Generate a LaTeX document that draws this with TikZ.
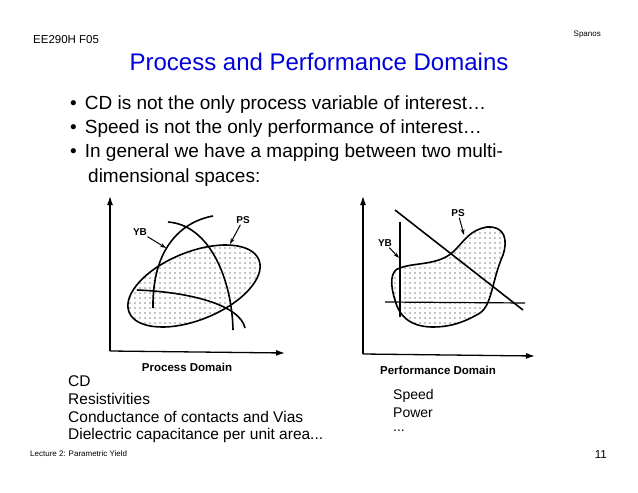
\documentclass[tikz,border=0pt]{standalone}
\usepackage{fontspec}
\setmainfont{Liberation Sans}
\usetikzlibrary{patterns.meta,arrows.meta,shapes.geometric}
\definecolor{ttl}{RGB}{0,0,220}
\begin{document}
\begin{tikzpicture}[x=1pt,y=-1pt,
  curve/.style={line width=1.6pt},
  axis/.style={line width=1.3pt,-{Latex[length=9pt,width=6pt]}},
  lbl/.style={font=\bfseries\fontsize{10}{12}\selectfont,inner sep=1pt},
  dlbl/.style={font=\bfseries\fontsize{11.5}{13}\selectfont,inner sep=1pt},
  ptr/.style={line width=1pt,-{Stealth[length=6pt,width=4pt]}},
  dotfill/.style={pattern={Dots[distance=5pt,radius=0.6pt]},pattern color=black},
  txt/.style={anchor=west,inner sep=0pt,font=\fontsize{15.5}{18}\selectfont},
  rtxt/.style={anchor=west,inner sep=0pt,font=\fontsize{14}{16}\selectfont},
  bul/.style={anchor=west,inner sep=0pt,font=\fontsize{19}{22}\selectfont}]
\useasboundingbox (0,0) rectangle (638,493);
\node[anchor=west,inner sep=0pt,font=\fontsize{11.5}{13}\selectfont] (hd) at (33,40) {EE290H F05};
\node[anchor=east,inner sep=0pt,font=\fontsize{8}{9}\selectfont] (au) at (601,35) {Spanos};
\node[inner sep=0pt,text=ttl,font=\fontsize{24}{28}\selectfont] (title) at (319,62) {Process and Performance Domains};
\node[bul] (b1) at (70,105) {•\hspace{8pt}CD is not the only process variable of interest…};
\node[bul] (b2) at (70,129) {•\hspace{8pt}Speed is not the only performance of interest…};
\node[bul] (b3) at (70,153) {•\hspace{8pt}In general we have a mapping between two multi-};
\node[bul] (b4) at (88,178) {dimensional spaces:};
% left plot
\coordinate (lo) at (110,351);
\coordinate (ly) at (110,196);
\coordinate (lx) at (285,353);
\draw[axis] (lo) -- (ly);
\draw[axis] (lo) -- (lx);
\node[curve,draw,dotfill,ellipse,minimum width=140pt,minimum height=68pt,rotate=22] (e1) at (194,286) {};
\draw[curve] (153,308) .. controls (152,250) and (180,222) .. (213,216);
\draw[curve] (168,222) .. controls (210,225) and (232,280) .. (233,330);
\draw[curve] (137,290) .. controls (190,292) and (240,305) .. (245,328);
\node[lbl] (yb1) at (140,232) {YB};
\node[lbl] (ps1) at (243,220) {PS};
\coordinate (yb1t) at (166,248);
\coordinate (ps1t) at (230,244);
\draw[ptr] (yb1) -- (yb1t);
\draw[ptr] (ps1) -- (ps1t);
\node[dlbl] (pd) at (187,367) {Process Domain};
% right plot
\coordinate (ro) at (363,354);
\coordinate (ry) at (363,196);
\coordinate (rx) at (535,356);
\draw[axis] (ro) -- (ry);
\draw[axis] (ro) -- (rx);
\draw[curve,dotfill] (400,268) .. controls (415,262) and (440,266) .. (455,250)
  .. controls (465,240) and (470,230) .. (487,227)
  .. controls (505,226) and (508,240) .. (503,255)
  .. controls (492,280) and (492,305) .. (480,313)
  .. controls (460,325) and (445,327) .. (433,327)
  .. controls (415,327) and (400,320) .. (395,300)
  .. controls (390,285) and (390,270) .. (400,268) -- cycle;
\draw[curve] (395,210) -- (523,310);
\draw[line width=1.2pt] (400,222) -- (400,317);
\draw[line width=1.2pt] (385,302) -- (525,303);
\node[lbl] (ps2) at (458,213) {PS};
\node[lbl] (yb2) at (385,243) {YB};
\coordinate (ps2t) at (464,235);
\coordinate (yb2t) at (399,258);
\draw[ptr] (ps2) -- (ps2t);
\draw[ptr] (yb2) -- (yb2t);
\node[dlbl] (fd) at (438,370) {Performance Domain};
% lists
\node[txt] (l1) at (68,381) {CD};
\node[txt] (l2) at (68,399) {Resistivities};
\node[txt] (l3) at (68,417) {Conductance of contacts and Vias};
\node[txt] (l4) at (68,435) {Dielectric capacitance per unit area...};
\node[rtxt] (r1) at (393,396) {Speed};
\node[rtxt] (r2) at (393,413) {Power};
\node[rtxt] (r3) at (393,431) {...};
\node[anchor=west,inner sep=0pt,font=\fontsize{8}{10}\selectfont] (ft) at (30,454) {Lecture 2: Parametric Yield};
\node[anchor=east,inner sep=0pt,font=\fontsize{11.5}{13}\selectfont] (pg) at (607,455) {11};
\end{tikzpicture}
\end{document}
